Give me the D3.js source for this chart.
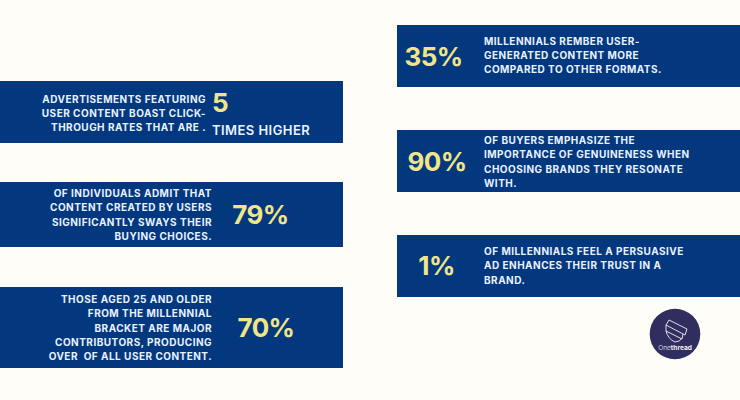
<!DOCTYPE html>
<html>
<head>
<meta charset="utf-8">
<script src="https://cdn.jsdelivr.net/npm/d3@7"></script>
<style>
    html, body { margin: 0; padding: 0; background: #fffdf7; }
    svg { display: block; }
    text { font-family: Inter, "Open Sans", sans-serif; }
</style>
</head>
<body>
<div id="chart"></div>
<script>
const leftValues = ["5", "79%", "70%"];
const leftLines = [
    ["ADVERTISEMENTS FEATURING", "USER CONTENT BOAST CLICK-", "THROUGH RATES THAT ARE ."],
    ["OF INDIVIDUALS ADMIT THAT", "CONTENT CREATED BY USERS", "SIGNIFICANTLY SWAYS THEIR", "BUYING CHOICES."],
    ["THOSE AGED 25 AND OLDER", "FROM THE MILLENNIAL", "BRACKET ARE MAJOR", "CONTRIBUTORS, PRODUCING", "OVER  OF ALL USER CONTENT."]
];
const rightValues = ["35%", "90%", "1%"];
const rightLines = [
    ["MILLENNIALS REMBER USER-", "GENERATED CONTENT MORE", "COMPARED TO OTHER FORMATS."],
    ["OF BUYERS EMPHASIZE THE", "IMPORTANCE OF GENUINENESS WHEN", "CHOOSING BRANDS THEY RESONATE", "WITH."],
    ["OF MILLENNIALS FEEL A PERSUASIVE", "AD ENHANCES THEIR TRUST IN A", "BRAND."]
];

const width = 740, height = 400;
const navy = "#03387f", yellow = "#f1e588", pale = "#e9f2ff";

const svg = d3.select("#chart").append("svg")
    .attr("width", width)
    .attr("height", height);

// panel boxes, left column is uneven so it gets its own tops and heights
const leftBoxes = [
    { y: 81, h: 62, textX: 206, valueX: 220, valueY: 112, lineStart: 102.5, lineGap: 14 },
    { y: 182, h: 65, textX: 212, valueX: 260.5, valueY: 224, lineStart: 197, lineGap: 14.4 },
    { y: 287, h: 81, textX: 212, valueX: 266, valueY: 337, lineStart: 303, lineGap: 14.3 }
];
const rightBoxes = [
    { y: 25, h: 62, valueX: 433.5, valueY: 66, lineStart: 45, lineGap: 14.2 },
    { y: 130, h: 62, valueX: 437, valueY: 171, lineStart: 144, lineGap: 14.4 },
    { y: 235, h: 62, valueX: 436.5, valueY: 275, lineStart: 255, lineGap: 14.4 }
];

function drawPanels(values, lines, boxes, x0, anchor, textXFor) {
    const g = svg.append("g");

    g.selectAll("rect")
        .data(boxes)
        .join("rect")
        .attr("x", x0)
        .attr("y", d => d.y)
        .attr("width", 343)
        .attr("height", d => d.h)
        .attr("fill", navy);

    g.selectAll("text.value")
        .data(values)
        .join("text")
        .attr("class", "value")
        .attr("x", (d, i) => boxes[i].valueX)
        .attr("y", (d, i) => boxes[i].valueY)
        .attr("text-anchor", "middle")
        .attr("fill", yellow)
        .attr("font-size", 26)
        .attr("font-weight", 700)
        .attr("letter-spacing", -0.6)
        .text(d => d);

    lines.forEach((rows, i) => {
        g.selectAll(null)
            .data(rows)
            .join("text")
            .attr("x", textXFor(boxes[i]))
            .attr("y", (d, j) => boxes[i].lineStart + j * boxes[i].lineGap)
            .attr("text-anchor", anchor)
            .attr("fill", pale)
            .attr("font-size", 10)
            .attr("font-weight", 700)
            .attr("letter-spacing", 0.48)
            .style("white-space", "pre")
            .text(d => d);
    });
}

drawPanels(leftValues, leftLines, leftBoxes, 0, "end", b => b.textX);
drawPanels(rightValues, rightLines, rightBoxes, 397, "start", () => 484);

svg.append("text")
    .attr("x", 212)
    .attr("y", 135)
    .attr("fill", pale)
    .attr("font-size", 13)
    .attr("font-weight", 600)
    .attr("letter-spacing", 0.45)
    .text("TIMES HIGHER");

// logo badge
const logo = svg.append("g").attr("transform", "translate(675, 334)");

logo.append("circle")
    .attr("r", 25.3)
    .attr("fill", "#2f2e5f");

logo.append("path")
    .attr("d", "M-6,-14 L12,-5 L10,1 L-9,-9 Z M-9,-9 L-9,-3 L7,5 L8,0 M-9,-3 Q-7,5 0,8 Q5,8 7,4")
    .attr("fill", "none")
    .attr("stroke", "#f2f0f7")
    .attr("stroke-width", 0.9);

logo.append("text")
    .attr("x", 0)
    .attr("y", 16)
    .attr("text-anchor", "middle")
    .attr("fill", "#f2f0f7")
    .attr("font-size", 6.6)
    .selectAll("tspan")
    .data([{ t: "One", w: 300 }, { t: "thread", w: 700 }])
    .join("tspan")
    .attr("font-weight", d => d.w)
    .text(d => d.t);
</script>
</body>
</html>
